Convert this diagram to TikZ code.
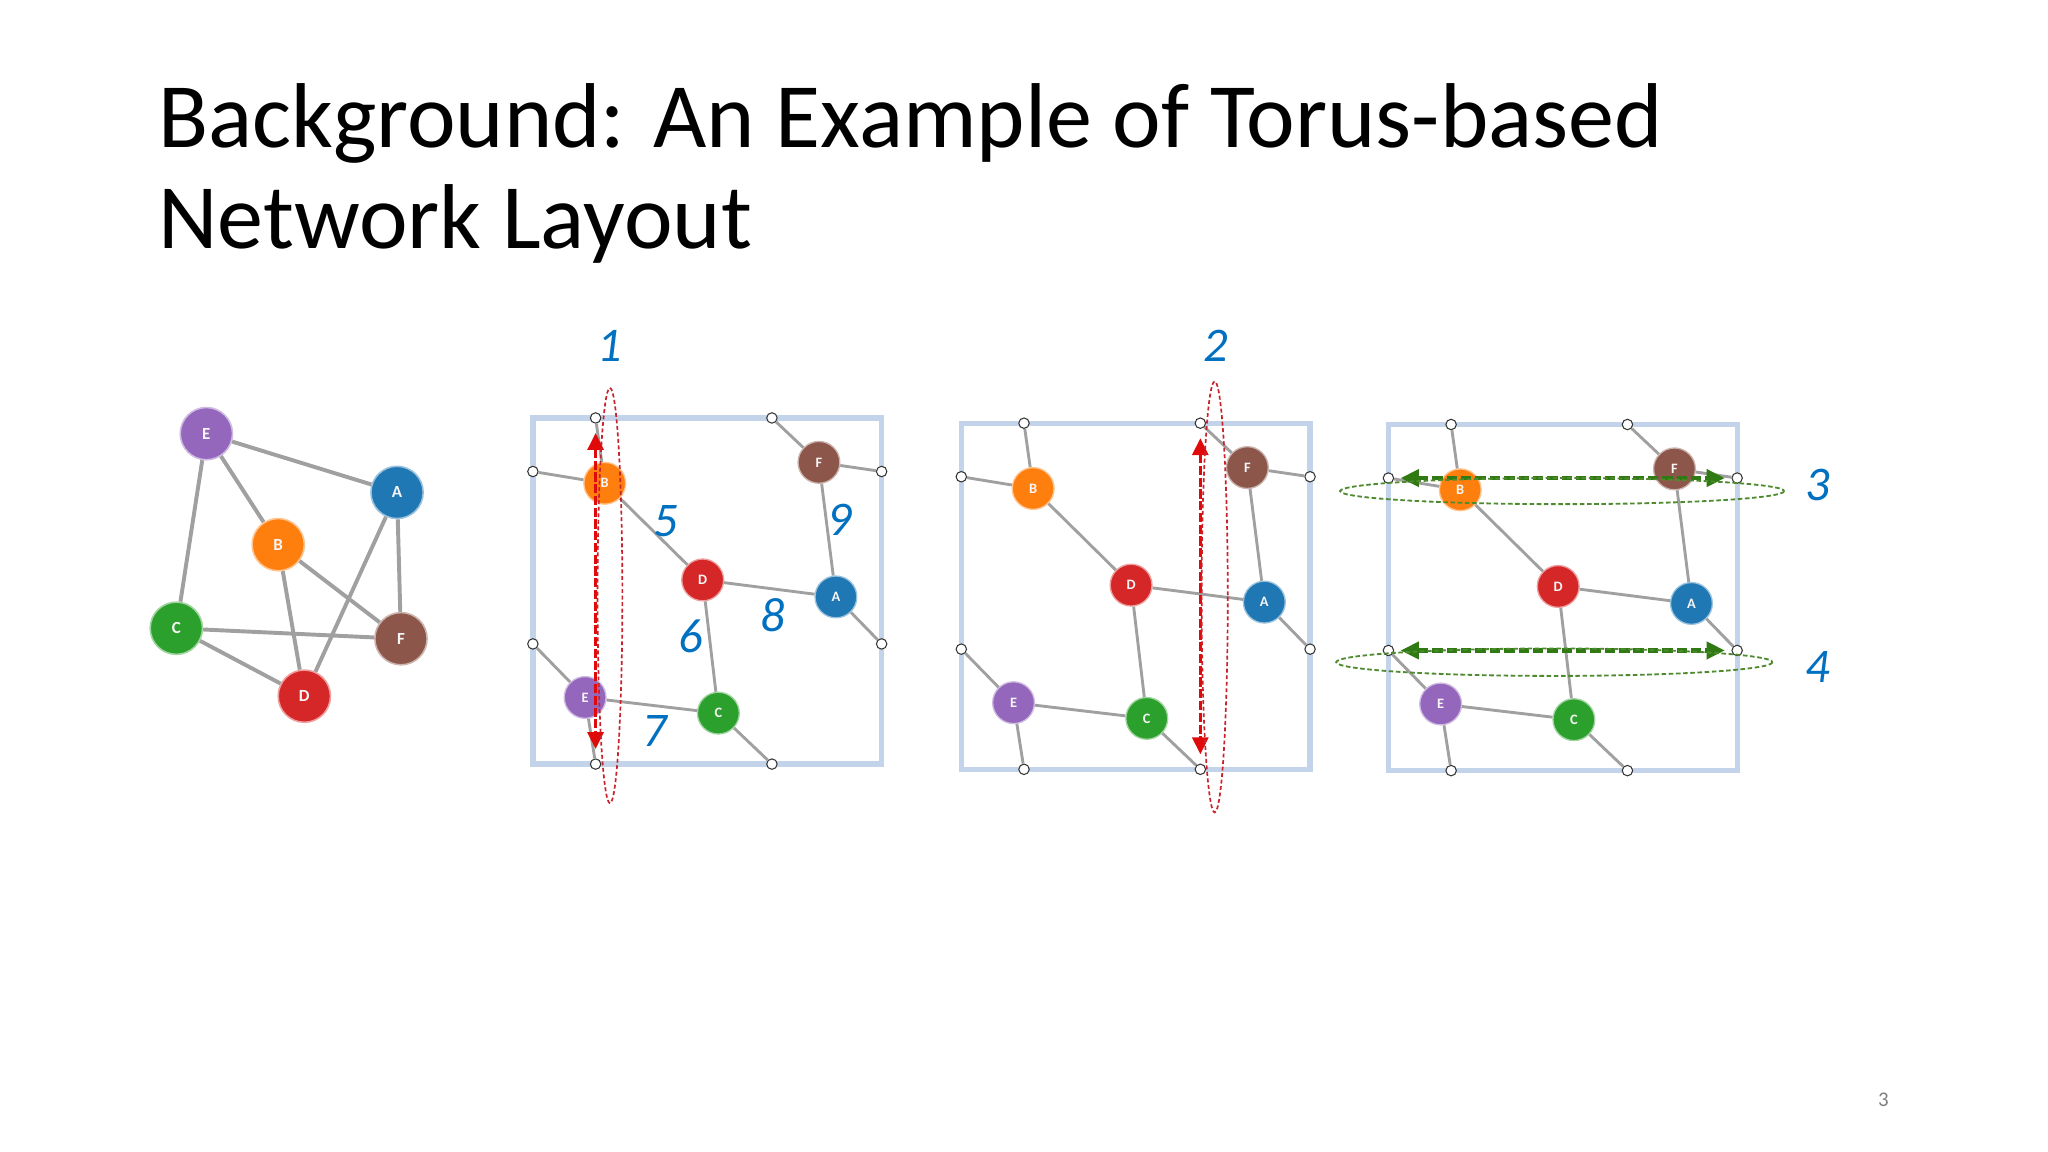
\documentclass[tikz,border=0pt]{standalone}
\usepackage{fontspec}
\setmainfont{Carlito}
\usetikzlibrary{arrows.meta}
\definecolor{cA}{HTML}{1F77B4}
\definecolor{cB}{HTML}{FF7F0E}
\definecolor{cC}{HTML}{2CA02C}
\definecolor{cD}{HTML}{D62728}
\definecolor{cE}{HTML}{9467BD}
\definecolor{cF}{HTML}{8C564B}
\definecolor{lblue}{HTML}{0070C0}
\definecolor{boxblue}{HTML}{C3D4EA}
\definecolor{edgegray}{HTML}{A0A0A0}
\definecolor{redarrow}{HTML}{E00A0A}
\definecolor{redell}{HTML}{C8232C}
\definecolor{grarrow}{HTML}{2F7A12}
\definecolor{grell}{HTML}{4E8A2E}
\newcommand\torusbox{%
  \draw[boxline] (408,320) rectangle (675,585);
  \node[tn, fill=cB, draw=cB!45!white] (B) at (463,370) {B};
  \node[tn, fill=cF, draw=cF!45!white] (F) at (627,354) {F};
  \node[tn, fill=cD, draw=cD!45!white] (D) at (538,444) {D};
  \node[tn, fill=cA, draw=cA!45!white] (A) at (640,457) {A};
  \node[tn, fill=cE, draw=cE!45!white] (E) at (448,534) {E};
  \node[tn, fill=cC, draw=cC!45!white] (C) at (550,546) {C};
  \node[port] (t1) at (456,320) {};
  \node[port] (t2) at (591,320) {};
  \node[port] (l1) at (408,361) {};
  \node[port] (r1) at (675,361) {};
  \node[port] (l2) at (408,493) {};
  \node[port] (r2) at (675,493) {};
  \node[port] (b1) at (456,585) {};
  \node[port] (b2) at (591,585) {};
  \draw[tedge] (B) -- (t1);
  \draw[tedge] (B) -- (l1);
  \draw[tedge] (B) -- (D);
  \draw[tedge] (D) -- (A);
  \draw[tedge] (D) -- (C);
  \draw[tedge] (E) -- (C);
  \draw[tedge] (E) -- (l2);
  \draw[tedge] (E) -- (b1);
  \draw[tedge] (F) -- (t2);
  \draw[tedge] (F) -- (r1);
  \draw[tedge] (F) -- (A);
  \draw[tedge] (A) -- (r2);
  \draw[tedge] (C) -- (b2);
}
\begin{document}
\begin{tikzpicture}[x=1pt,y=-1pt,
  gn/.style={circle, minimum size=40pt, inner sep=0pt, line width=1.2pt, text=white!92!gray, font=\fontsize{13}{13}\selectfont\bfseries},
  tn/.style={circle, minimum size=32pt, inner sep=0pt, line width=1pt, text=white!92!gray, font=\fontsize{11}{11}\selectfont\bfseries},
  port/.style={circle, draw=black!80, fill=white, minimum size=8pt, inner sep=0pt, line width=0.8pt},
  gedge/.style={draw=edgegray, line width=3pt},
  tedge/.style={draw=edgegray, line width=2.2pt},
  boxline/.style={draw=boxblue, line width=4pt},
  numlbl/.style={text=lblue, font=\fontsize{37}{37}\selectfont\itshape, inner sep=0pt},
  redarr/.style={draw=redarrow, line width=2.8pt, dash pattern=on 7pt off 2pt, {Triangle[length=13pt,width=12pt]}-{Triangle[length=13pt,width=12pt]}},
  redring/.style={draw=redell, line width=1.3pt, dash pattern=on 3pt off 2pt},
  grarr/.style={draw=grarrow, line width=3.2pt, dash pattern=on 8pt off 3pt, {Triangle[length=14pt,width=13pt]}-{Triangle[length=14pt,width=13pt]}},
  grring/.style={draw=grell, line width=1.4pt, dash pattern=on 3.5pt off 2pt}
]
\useasboundingbox (0,0) rectangle (1568,882);
\fill[white] (0,0) rectangle (1568,882);

% title
\node[anchor=base west, inner sep=0pt, font=\fontsize{70.5}{77}\selectfont] (title1) at (121,113) {Background: An Example of Torus-based};
\node[anchor=base west, inner sep=0pt, font=\fontsize{70.5}{77}\selectfont] (title2) at (121,190) {Network Layout};

% graph 1
\node[gn, fill=cE, draw=cE!45!white] (gE) at (158,332) {E};
\node[gn, fill=cA, draw=cA!45!white] (gA) at (304,377) {A};
\node[gn, fill=cB, draw=cB!45!white] (gB) at (213,417) {B};
\node[gn, fill=cC, draw=cC!45!white] (gC) at (135,481) {C};
\node[gn, fill=cF, draw=cF!45!white] (gF) at (307,489) {F};
\node[gn, fill=cD, draw=cD!45!white] (gD) at (233,533) {D};
\draw[gedge] (gE) -- (gA);
\draw[gedge] (gE) -- (gB);
\draw[gedge] (gE) -- (gC);
\draw[gedge] (gA) -- (gF);
\draw[gedge] (gA) -- (gD);
\draw[gedge] (gB) -- (gF);
\draw[gedge] (gB) -- (gD);
\draw[gedge] (gC) -- (gF);
\draw[gedge] (gC) -- (gD);

% torus boxes
\begin{scope}[name prefix=p1-]
  \torusbox
\end{scope}
\begin{scope}[shift={(328,4)}, name prefix=p2-]
  \torusbox
\end{scope}
\begin{scope}[shift={(655,5)}, name prefix=p3-]
  \torusbox
\end{scope}

% wrap markers
\draw[redarr, shorten <=7pt, shorten >=7pt] (p1-t1) -- (p1-b1);
\draw[redring] (467,456) ellipse [x radius=9.5, y radius=159];
\draw[redarr, shorten <=7pt, shorten >=7pt] (p2-t2) -- (p2-b2);
\draw[redring] (930,457) ellipse [x radius=10, y radius=165];
\draw[grarr, shorten <=5pt, shorten >=5pt] (p3-l1) -- (p3-r1);
\draw[grring] (1196,376) ellipse [x radius=170, y radius=10];
\draw[grarr, shorten <=5pt, shorten >=5pt] (p3-l2) -- (p3-r2);
\draw[grring] (1190,507) ellipse [x radius=167, y radius=10.5];

% labels
\node[numlbl] (n1) at (467,265) {1};
\node[numlbl] (n2) at (931,265) {2};
\node[numlbl] (n3) at (1392,371) {3};
\node[numlbl] (n4) at (1392,511) {4};
\node[numlbl] (n5) at (510,399) {5};
\node[numlbl] (n6) at (529,487) {6};
\node[numlbl] (n7) at (501,560) {7};
\node[numlbl] (n8) at (592,471) {8};
\node[numlbl] (n9) at (643,398) {9};

% page number
\node[text=black!50, font=\fontsize{16}{16}\selectfont, inner sep=0pt] (pg) at (1442,842) {3};
\end{tikzpicture}
\end{document}
